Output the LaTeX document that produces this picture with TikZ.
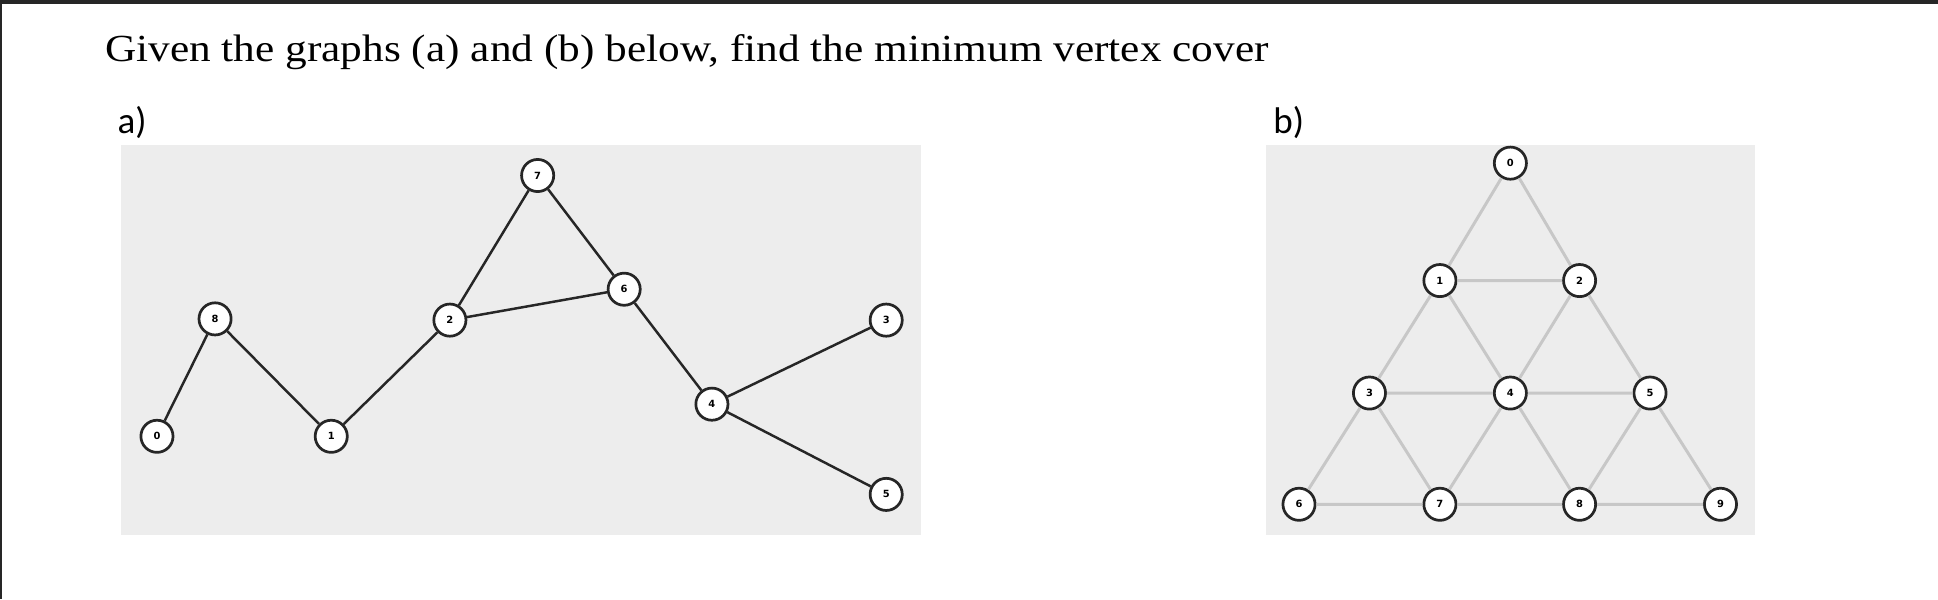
\documentclass[tikz,border=0pt]{standalone}
\usepackage{fontspec}
\setmainfont{Liberation Serif}
\newfontfamily\lab{Carlito}
\newfontfamily\num{DejaVu Sans}
\begin{document}
\begin{tikzpicture}[x=1pt,y=-1pt,
  vx/.style={circle,draw=black!85,line width=2.2pt,fill=white,minimum size=26pt,inner sep=0pt,font=\num\fontsize{8}{8}\selectfont\bfseries},
  ea/.style={draw=black!85,line width=2pt},
  eb/.style={draw=black!22,line width=2.4pt}]
\useasboundingbox (0,0) rectangle (1568,485);
\fill[white] (0,0) rectangle (1568,485);
\fill[black!85] (0,0) rectangle (1568,3);
\fill[black!85] (0,0) rectangle (2,485);
\node[anchor=base west,inner sep=0pt,font=\fontsize{31}{31}\selectfont] (title) at (85,50) {\scalebox{1.13}[1]{Given the graphs (a) and (b) below, find the minimum vertex cover}};
\node[anchor=base west,inner sep=0pt,font=\lab\fontsize{30}{30}\selectfont] (la) at (95,108) {a)};
\node[anchor=base west,inner sep=0pt,font=\lab\fontsize{30}{30}\selectfont] (lb) at (1030,108) {b)};
\fill[black!7] (98,117) rectangle (745,433);
\fill[black!7] (1024,117) rectangle (1420,433);
% graph a
\node[vx] (a0) at (127,353) {0};
\node[vx] (a8) at (174,258) {8};
\node[vx] (a1) at (268,353) {1};
\node[vx] (a2) at (364,259) {2};
\node[vx] (a7) at (435,142) {7};
\node[vx] (a6) at (505,234) {6};
\node[vx] (a4) at (576,327) {4};
\node[vx] (a3) at (717,259) {3};
\node[vx] (a5) at (717,400) {5};
\path[ea] (a0)--(a8) (a8)--(a1) (a1)--(a2) (a2)--(a7) (a7)--(a6) (a2)--(a6) (a6)--(a4) (a4)--(a3) (a4)--(a5);
% graph b
\node[vx] (b0) at (1222,132) {0};
\node[vx] (b1) at (1165,227) {1};
\node[vx] (b2) at (1278,227) {2};
\node[vx] (b3) at (1108,318) {3};
\node[vx] (b4) at (1222,318) {4};
\node[vx] (b5) at (1335,318) {5};
\node[vx] (b6) at (1051,408) {6};
\node[vx] (b7) at (1165,408) {7};
\node[vx] (b8) at (1278,408) {8};
\node[vx] (b9) at (1392,408) {9};
\path[eb] (b0)--(b1) (b0)--(b2) (b1)--(b2) (b1)--(b3) (b1)--(b4) (b2)--(b4) (b2)--(b5)
  (b3)--(b4) (b4)--(b5) (b3)--(b6) (b3)--(b7) (b4)--(b7) (b4)--(b8) (b5)--(b8) (b5)--(b9)
  (b6)--(b7) (b7)--(b8) (b8)--(b9);
\end{tikzpicture}
\end{document}
